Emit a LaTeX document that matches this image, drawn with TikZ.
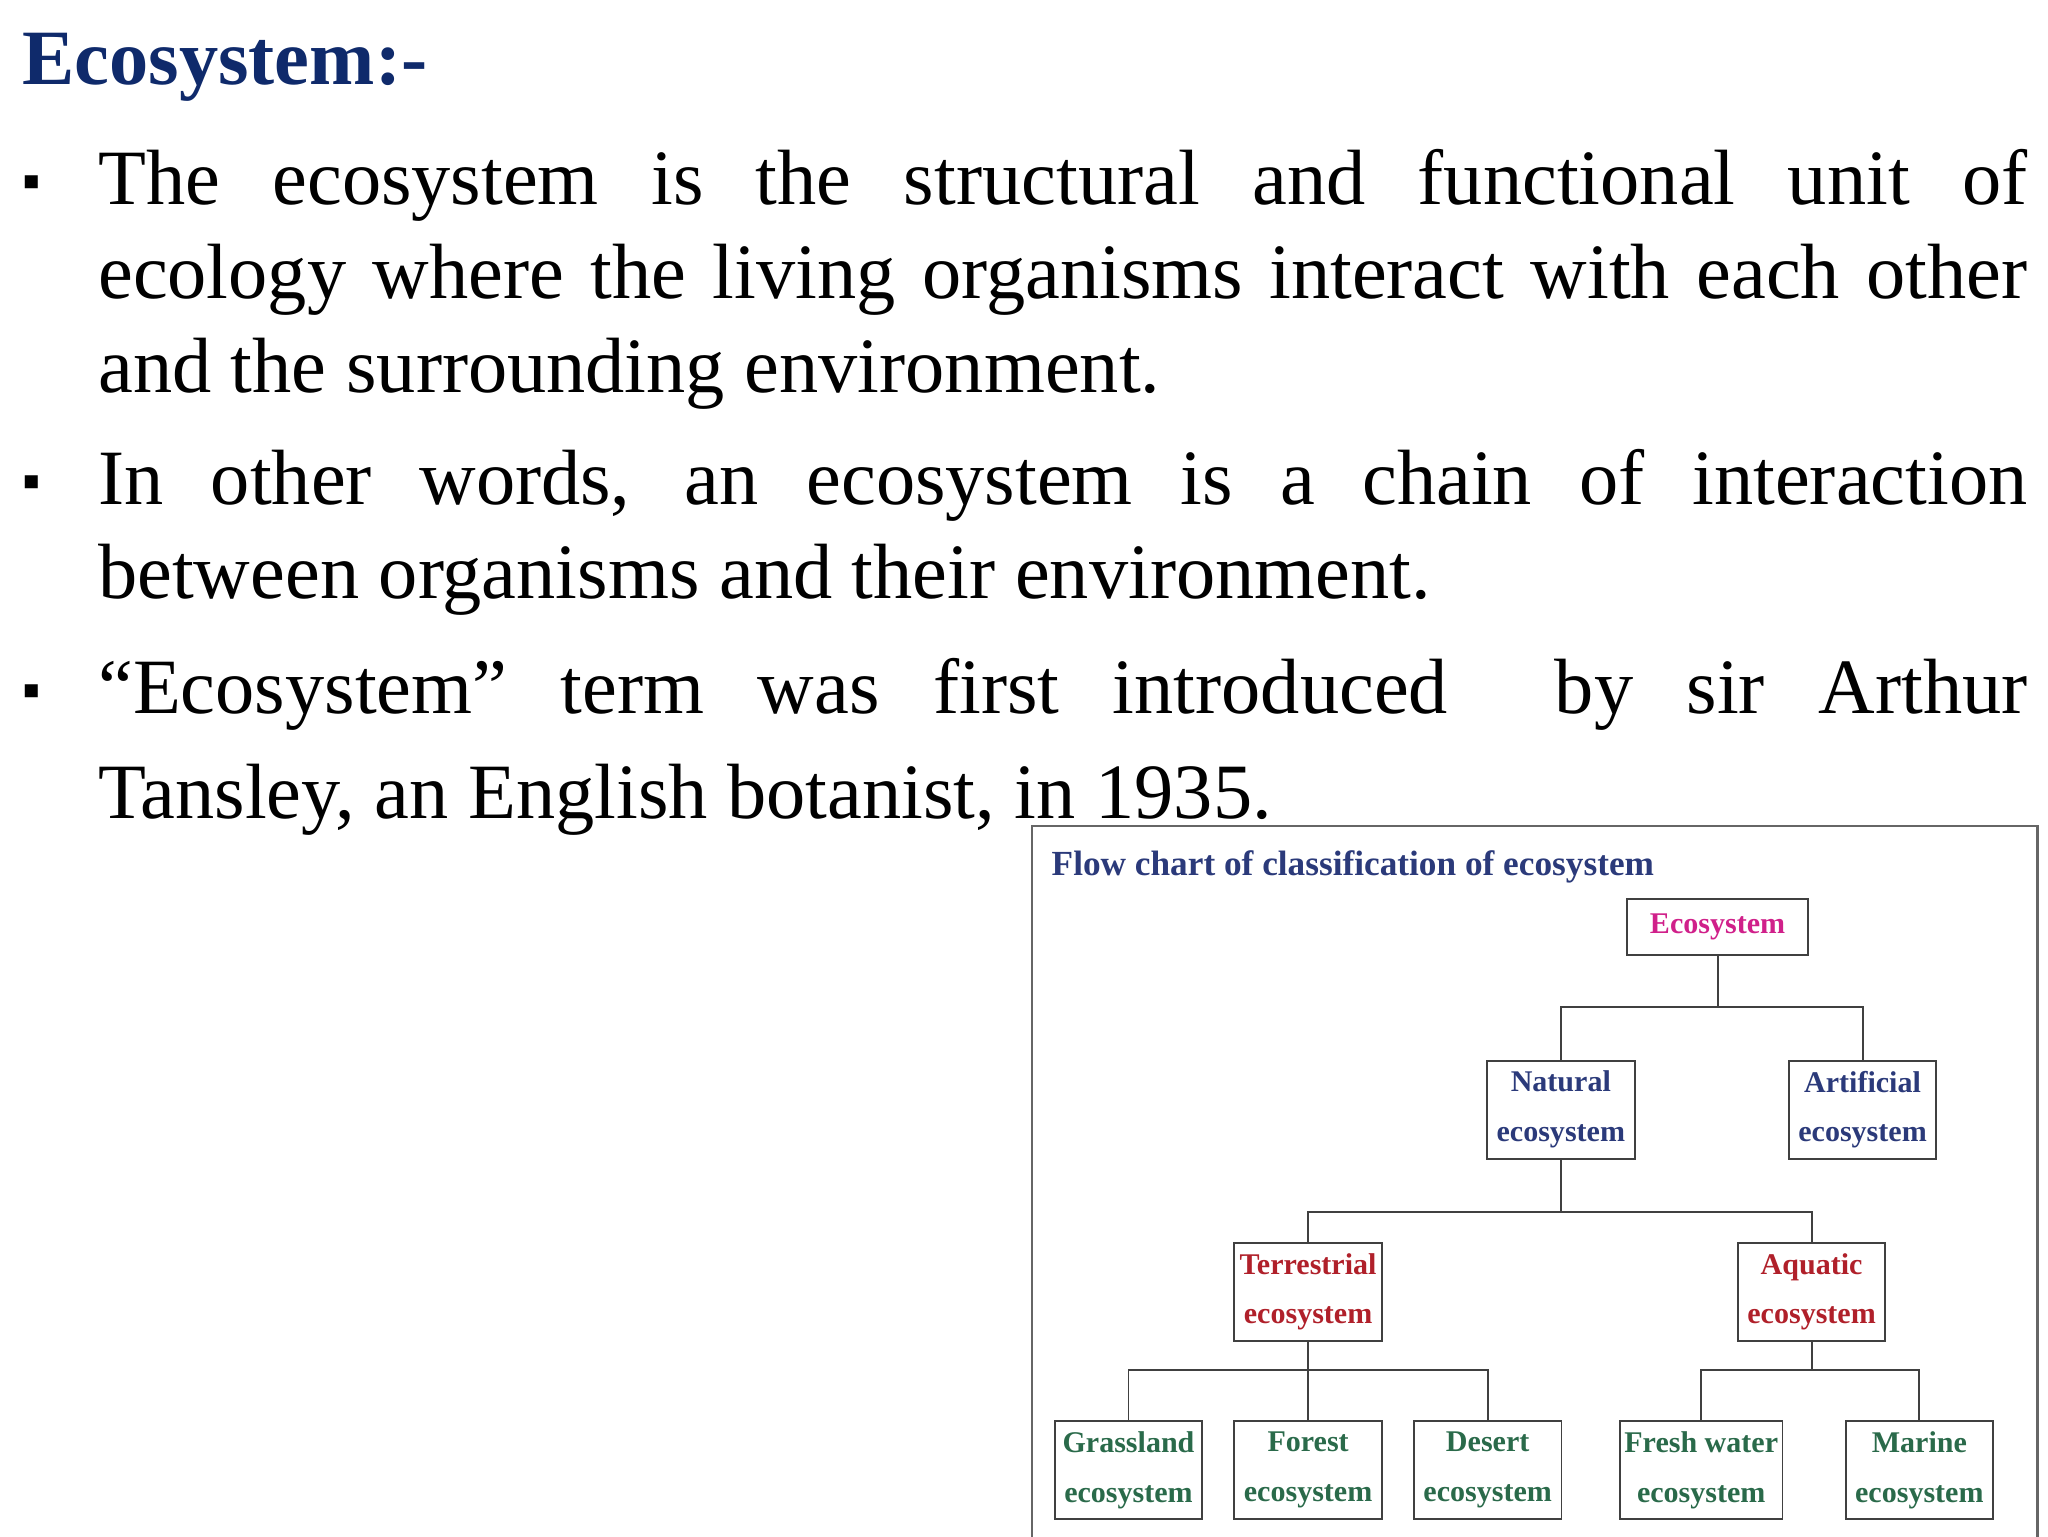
\documentclass[tikz,border=0pt]{standalone}
\usepackage{fontspec}
\setmainfont{Liberation Serif}
\definecolor{ttl}{HTML}{0F2A6B}
\definecolor{nblue}{HTML}{2B3A7A}
\definecolor{mag}{HTML}{D0208A}
\definecolor{tred}{HTML}{B0202A}
\definecolor{tgrn}{HTML}{2A6A4A}
\begin{document}
\begin{tikzpicture}[x=1pt,y=-1pt,
  para/.style={anchor=north west,inner sep=0pt,text width=1477pt,align=justify,font=\fontsize{60}{72}\selectfont},
  bul/.style={anchor=base west,inner sep=0pt,font=\fontsize{40}{40}\selectfont},
  cbox/.style={draw=black!75,line width=1.5pt,minimum width=113pt,minimum height=75pt,align=center,font=\bfseries\fontsize{23}{38}\selectfont},
  link/.style={draw=black!75,line width=1.5pt}]
\useasboundingbox (0,0) rectangle (1568,1176);
\node[anchor=base west,inner sep=0pt,text=ttl,font=\bfseries\fontsize{60}{60}\selectfont] (title) at (17,65) {Ecosystem:-};
\node[bul] (b1) at (17,152) {▪};
\node[para] (p1) at (75,114) {The ecosystem is the structural and functional unit of\linebreak ecology where the living organisms interact with each other\linebreak and the surrounding environment.};
\node[bul] (b2) at (17,382) {▪};
\node[para] (p2) at (75,344) {In other words, an ecosystem is a chain of interaction\linebreak between organisms and their environment.};
\node[bul] (b3) at (17,542) {▪};
\node[para,font=\fontsize{60}{80}\selectfont] (p3) at (75,504) {“Ecosystem” term was first introduced\ \ by sir Arthur\linebreak Tansley, an English botanist, in 1935.};
\node[draw=black!60,line width=2pt,minimum width=770pt,minimum height=545pt,inner sep=0pt] (frame) at (1175,905) {};
\node[anchor=base west,inner sep=0pt,text=nblue,font=\bfseries\fontsize{27}{27}\selectfont] (ftitle) at (805,670) {Flow chart of classification of ecosystem};
\node[cbox,minimum width=138pt,minimum height=43pt,text=mag] (eco) at (1315,709.5) {Ecosystem};
\node[cbox,text=nblue] (nat) at (1195,849.5) {Natural\\ecosystem};
\node[cbox,text=nblue] (art) at (1426,849.5) {Artificial\\ecosystem};
\node[cbox,text=tred] (ter) at (1001.5,989) {Terrestrial\\ecosystem};
\node[cbox,text=tred] (aqu) at (1387,989) {Aquatic\\ecosystem};
\node[cbox,text=tgrn] (gra) at (864,1125.5) {Grassland\\ecosystem};
\node[cbox,text=tgrn] (for) at (1001.5,1125.5) {Forest\\ecosystem};
\node[cbox,text=tgrn] (des) at (1139,1125.5) {Desert\\ecosystem};
\node[cbox,text=tgrn] (fre) at (1302.5,1125.5) {Fresh water\\ecosystem};
\node[cbox,text=tgrn] (mar) at (1469.5,1125.5) {Marine\\ecosystem};
\draw[link] (eco.south) -- (eco.south |- 0,771) -| (nat.north);
\draw[link] (eco.south |- 0,771) -| (art.north);
\draw[link] (nat.south) -- (nat.south |- 0,928) -| (ter.north);
\draw[link] (nat.south |- 0,928) -| (aqu.north);
\draw[link] (ter.south) -- (ter.south |- 0,1049) -| (gra.north);
\draw[link] (ter.south |- 0,1049) -| (des.north);
\draw[link] (ter.south) -- (for.north);
\draw[link] (aqu.south) -- (aqu.south |- 0,1049) -| (fre.north);
\draw[link] (aqu.south |- 0,1049) -| (mar.north);
\end{tikzpicture}
\end{document}
